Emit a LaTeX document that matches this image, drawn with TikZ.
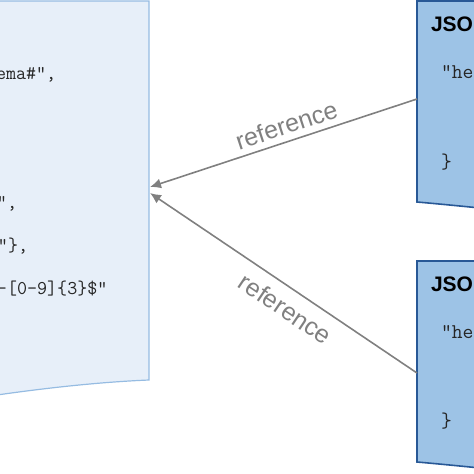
\documentclass[tikz,border=0pt]{standalone}
\usepackage{fontspec}
\setmainfont{Liberation Sans}
\usetikzlibrary{arrows.meta}

\definecolor{fondoesq}{RGB}{231,239,249}
\definecolor{bordeesq}{RGB}{150,188,226}
\definecolor{fondoinst}{RGB}{157,195,230}
\definecolor{bordeinst}{RGB}{40,88,150}
\definecolor{gris}{RGB}{128,128,128}

\begin{document}
\begin{tikzpicture}[x=1pt,y=-1pt]
		\tikzstyle{every node}=[inner sep=0pt, outer sep=0pt]
		\tikzstyle{esquema} = [draw=bordeesq, fill=fondoesq, line width=1.2pt]
		\tikzstyle{instancia} = [draw=bordeinst, fill=fondoinst, line width=1.6pt]
		\tikzstyle{codigo} = [anchor=base west, text=black!85, font=\ttfamily\fontsize{19.5}{22}\selectfont]
		\tikzstyle{codigoinst} = [anchor=base west, text=black!85, font=\ttfamily\fontsize{21}{24}\selectfont]
		\tikzstyle{titulo} = [anchor=base west, font=\bfseries\fontsize{21}{24}\selectfont]
		\tikzstyle{flecha} = [-{Latex[length=11pt,width=10pt]}, draw=gris, line width=1.6pt]
		\tikzstyle{etiqueta} = [sloped, inner sep=3pt, text=gris, font=\fontsize{25}{28}\selectfont]

		\useasboundingbox (0,0) rectangle (474,474);
		\clip (0,0) rectangle (474,474);

		% esquema
		\draw[esquema] (-10,1) -- (149,1) -- (149,380) .. controls (100,382) and (45,388) .. (-10,396) -- cycle;
		\draw (-4,79) node[codigo](lin1){ema\#",};
		\draw (-3,208) node[codigo](lin2){",};
		\draw (-2,251) node[codigo](lin3){"\},};
		\draw (-3,294) node[codigo](lin4){-[0-9]\{3\}\$"};

		% instancias
		\draw[instancia] (417,1) -- (490,1) -- (490,209) .. controls (470,207) and (440,204) .. (417,202) -- cycle;
		\draw (431,31) node[titulo](tit1){JSO};
		\draw (441,78) node[codigoinst](cod1){"he};
		\draw (441,168) node[codigoinst](fin1){\}};

		\draw[instancia] (417,261) -- (490,261) -- (490,469) .. controls (470,467) and (440,464) .. (417,462) -- cycle;
		\draw (431,291) node[titulo](tit2){JSO};
		\draw (441,338) node[codigoinst](cod2){"he};
		\draw (441,427) node[codigoinst](fin2){\}};

		\coordinate (inst1) at (417,99);
		\coordinate (inst2) at (417,373);
		\coordinate (esq1) at (150,187);
		\coordinate (esq2) at (150,193);

		\draw[flecha] (inst1) -- (esq1) node[pos=0.47, etiqueta, above=4pt]{reference};
		\draw[flecha] (inst2) -- (esq2) node[pos=0.45, etiqueta, below=8pt]{reference};
	\end{tikzpicture}
\end{document}
